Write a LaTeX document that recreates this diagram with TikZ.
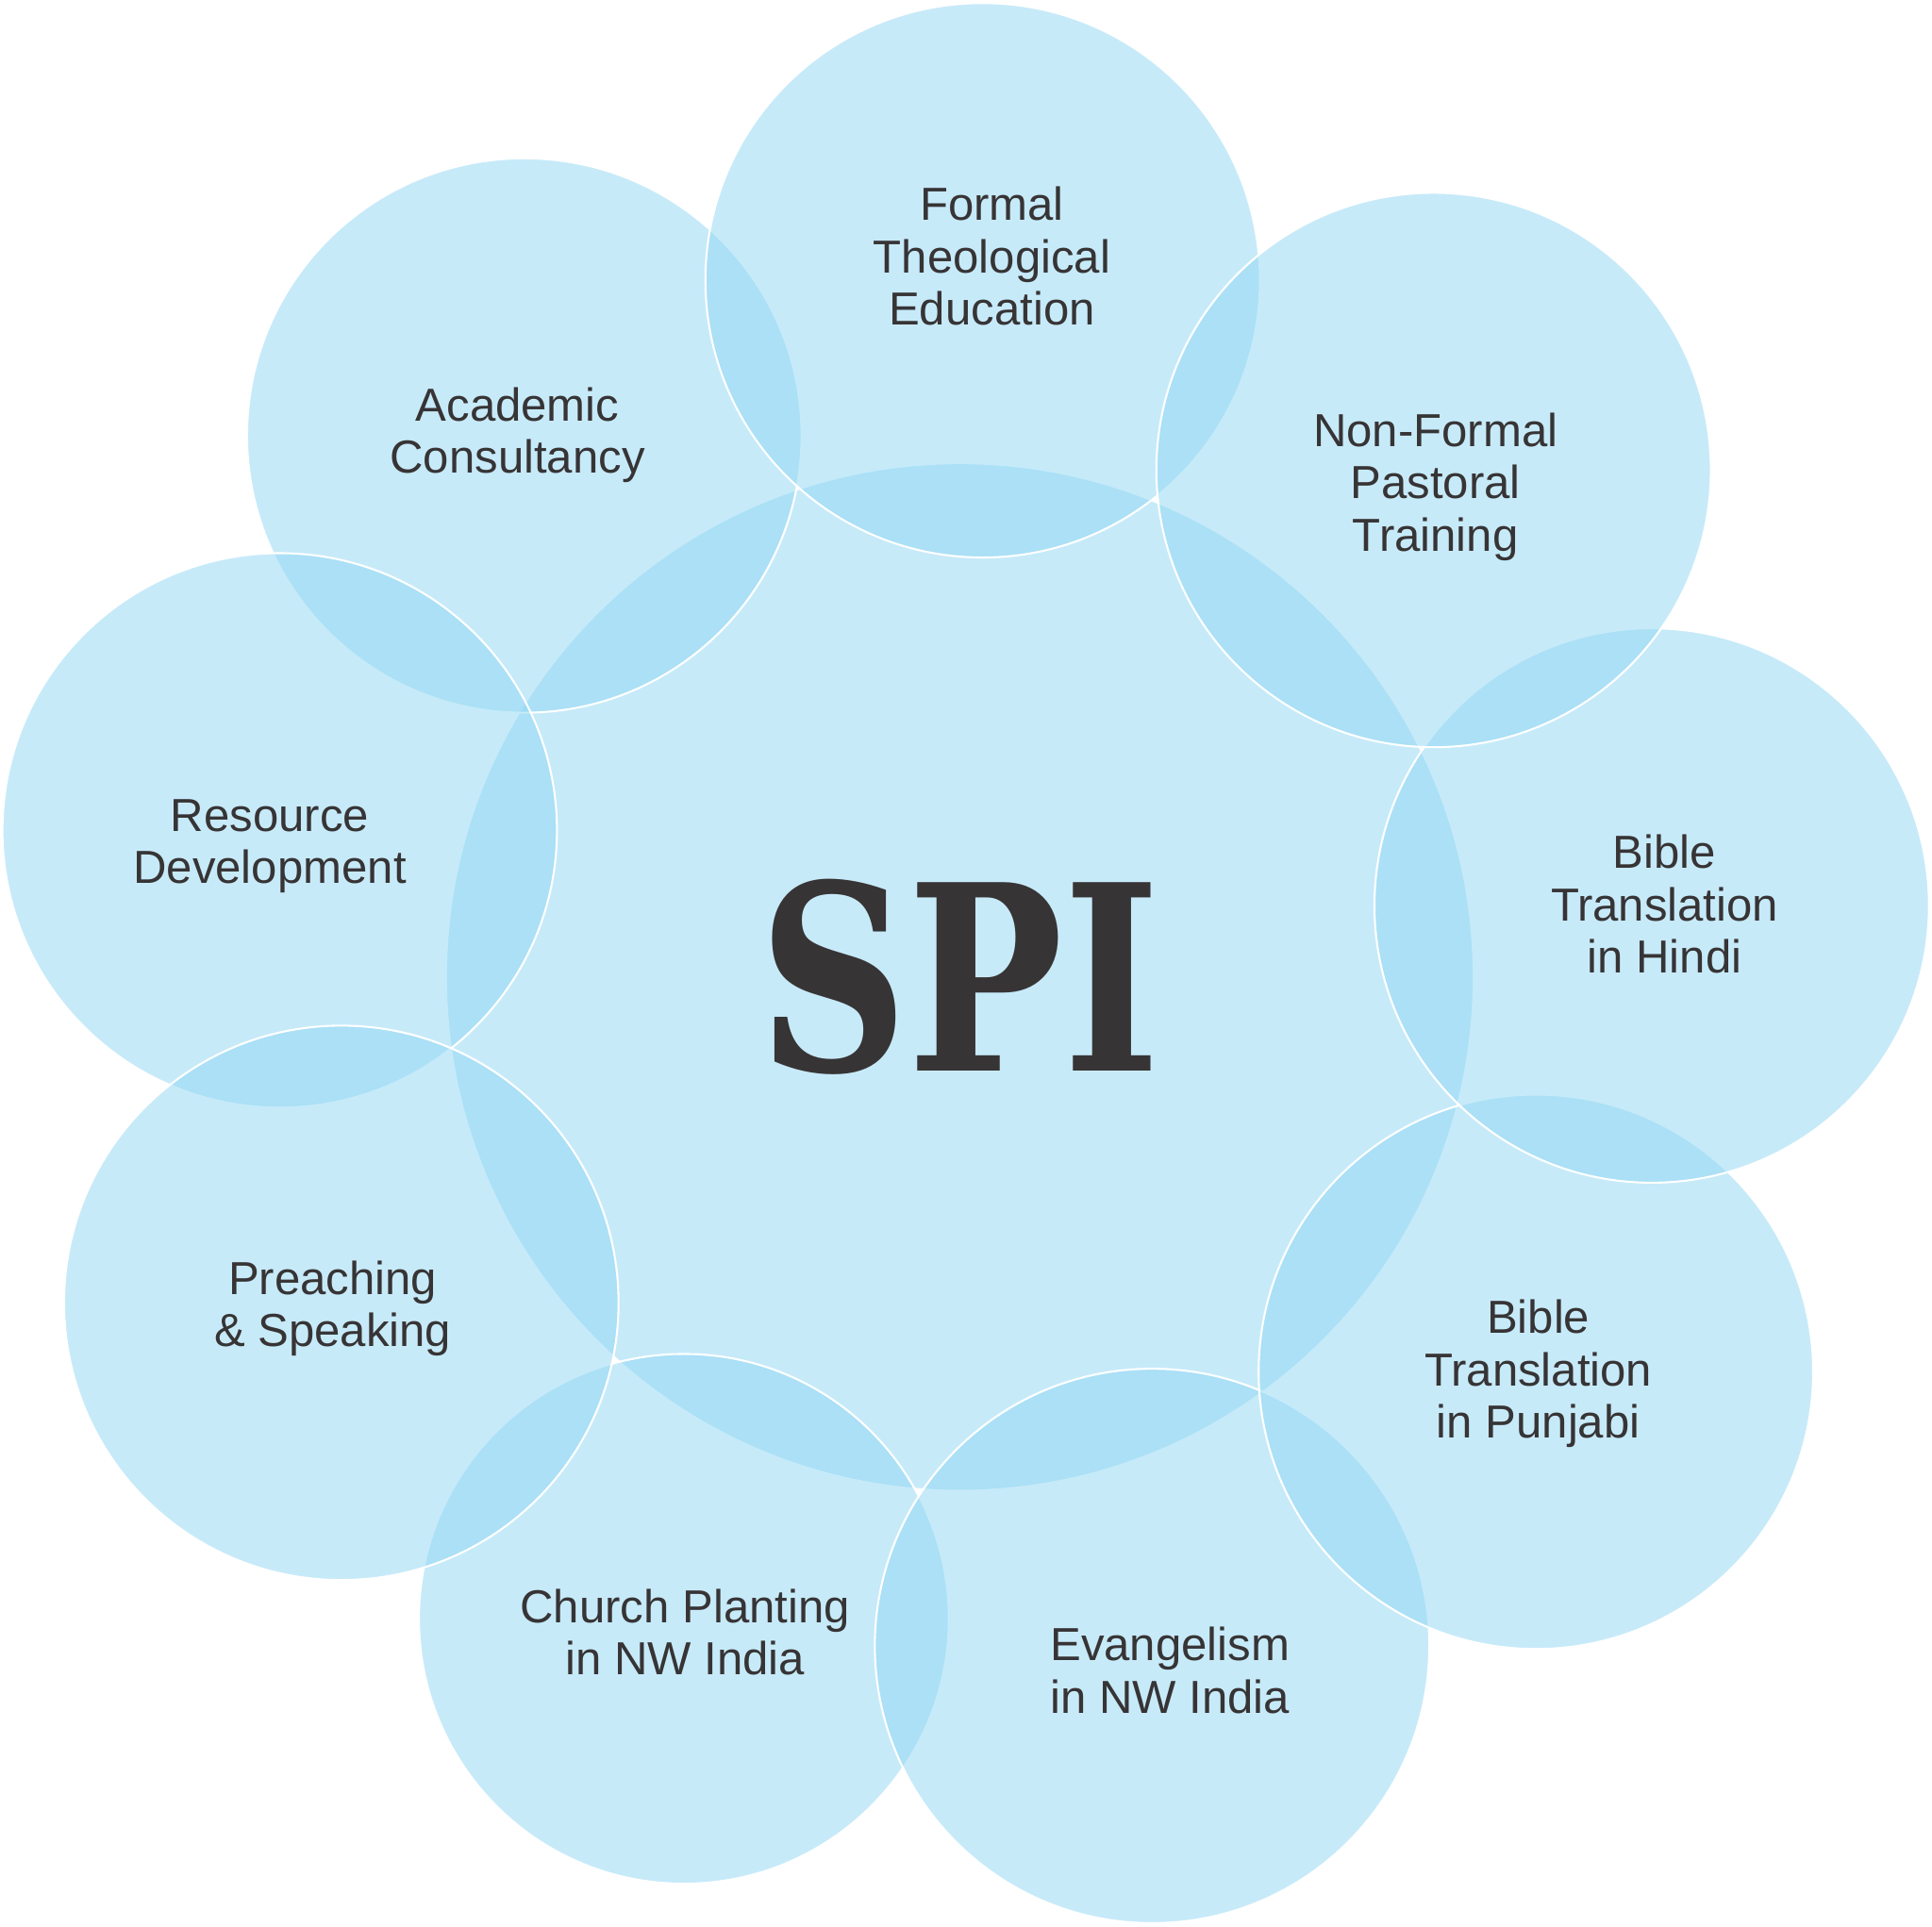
\documentclass[tikz,border=0pt]{standalone}
\usepackage{fontspec}
\setmainfont{Liberation Sans}
\newfontfamily\spifont{DejaVu Serif}[FakeStretch=0.8]

\definecolor{petalblue}{RGB}{143,214,243}
\definecolor{inkgray}{RGB}{55,52,53}

\tikzset{
  petal/.style={circle, draw=white, line width=0.45pt, fill=petalblue,
    fill opacity=0.5, inner sep=0pt, minimum size=#1},
  petal/.default=4.5cm,
  topic/.style={text=inkgray, align=center, font=\fontsize{10.7}{12.1}\selectfont},
}

\begin{document}
\begin{tikzpicture}
  \useasboundingbox (0,0) rectangle (15.68,-15.634);

  % hub first, then the ring (order sets which white rims stay on top)
  \node[petal=8.34cm] (hub) at (7.79,-7.93) {};
  \node[petal=4.3cm] (plant-c) at (5.55,-13.14) {};
  \node[petal] (evang-c) at (9.35,-13.36) {};
  \node[petal] (punjabi-c) at (12.465,-11.135) {};
  \node[petal] (hindi-c) at (13.405,-7.35) {};
  \node[petal] (acad-c) at (4.255,-3.535) {};
  \node[petal] (res-c) at (2.27,-6.74) {};
  \node[petal] (preach-c) at (2.77,-10.575) {};
  \node[petal] (formal-c) at (7.975,-2.275) {};
  \node[petal] (nonformal-c) at (11.635,-3.815) {};

  % texts
  \node[text=inkgray, anchor=base, inner sep=0pt,
    font=\spifont\fontsize{59.7}{60}\selectfont\bfseries] (spi) at (7.79,-8.69) {SPI};
  \node[topic] (formal) at (8.05,-2.08) {Formal\\Theological\\Education};
  \node[topic] (nonformal) at (11.65,-3.95) {Non-Formal\\Pastoral\\Training};
  \node[topic] (hindi) at (13.51,-7.34) {Bible\\Translation\\in Hindi};
  \node[topic] (punjabi) at (12.485,-11.15) {Bible\\Translation\\in Punjabi};
  \node[topic] (evang) at (9.495,-13.56) {Evangelism\\in NW India};
  \node[topic] (plant) at (5.56,-13.25) {Church Planting\\in NW India};
  \node[topic] (preach) at (2.70,-10.62) {Preaching\\\& Speaking};
  \node[topic] (res) at (2.19,-6.87) {Resource\\Development};
  \node[topic] (acad) at (4.20,-3.53) {Academic\\Consultancy};
\end{tikzpicture}
\end{document}
